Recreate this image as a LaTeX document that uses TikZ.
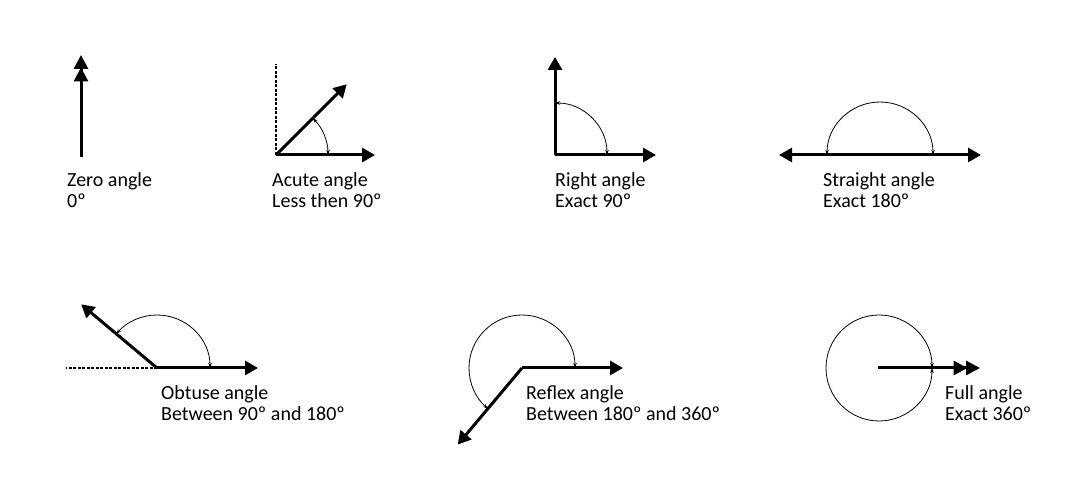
\documentclass[tikz,border=0pt]{standalone}
\usepackage{fontspec}
\setmainfont{Carlito}
\usetikzlibrary{arrows.meta}

\tikzset{
	ray/.style={line width=3pt, -{Triangle[width=14pt,length=13pt]}},
	tworay/.style={line width=3pt, {Triangle[width=14pt,length=13pt]}-{Triangle[width=14pt,length=13pt]}},
	fullray/.style={line width=3pt, -{Triangle[width=14pt,length=14pt,sep=-1.5pt]Triangle[width=14pt,length=14pt]}},
	guide/.style={line width=2pt, dash pattern=on 3pt off 1.5pt},
	anglearc/.style={line width=0.8pt, {Stealth[length=5pt,width=3.5pt]}-{Stealth[length=5pt,width=3.5pt]}},
	anglename/.style={anchor=base west, inner sep=0pt, align=left, font=\fontsize{20}{21.5}\selectfont}
}

\begin{document}
\begin{tikzpicture}[x=1pt, y=1pt]
\useasboundingbox (0,0) rectangle (1071,500);

% vertices
\coordinate (zero) at (81,343);
\coordinate (acute) at (276,345);
\coordinate (right) at (555,345);
\coordinate (straight) at (880,345);
\coordinate (obtuse) at (157,132);
\coordinate (reflex) at (522,132);
\coordinate (full) at (879,132);

% zero angle
\draw[fullray] (zero) -- ++(0,102);

% acute angle
\draw[guide] (acute) -- ++(0,91);
\draw[ray] (acute) -- ++(99,0);
\draw[ray] (acute) -- ++(45:100);
\draw[anglearc] ([shift={(0:52)}]acute) arc[start angle=0, end angle=45, radius=52];

% right angle
\draw[ray] (right) -- ++(0,98);
\draw[ray] (right) -- ++(101,0);
\draw[anglearc] ([shift={(0:52)}]right) arc[start angle=0, end angle=90, radius=52];

% straight angle
\draw[tworay] ([shift={(-101,0)}]straight) -- ++(202,0);
\draw[anglearc] ([shift={(0:53)}]straight) arc[start angle=0, end angle=180, radius=53];

% obtuse angle
\draw[guide] (obtuse) -- ++(-91,0);
\draw[ray] (obtuse) -- ++(101,0);
\draw[ray] (obtuse) -- ++(140:99);
\draw[anglearc] ([shift={(0:53)}]obtuse) arc[start angle=0, end angle=140, radius=53];

% reflex angle
\draw[ray] (reflex) -- ++(101,0);
\draw[ray] (reflex) -- ++(230:100);
\draw[anglearc] ([shift={(0:53)}]reflex) arc[start angle=0, end angle=230, radius=53];

% full angle
\draw[anglearc] ([shift={(0:53)}]full) arc[start angle=0, end angle=360, radius=53];
\draw[fullray] ([shift={(-1,0)}]full) -- ++(102,0);

\node[anglename] (zerotext) at (67,292) {Zero angle\\0º};
\node[anglename] (acutetext) at (272,292) {Acute angle\\Less then 90º};
\node[anglename] (righttext) at (555,292) {Right angle\\Exact 90º};
\node[anglename] (straighttext) at (823,292) {Straight angle\\Exact 180º};
\node[anglename] (obtusetext) at (161,79) {Obtuse angle\\Between 90º and 180º};
\node[anglename] (reflextext) at (526,79) {Reflex angle\\Between 180º and 360º};
\node[anglename] (fulltext) at (945,79) {Full angle\\Exact 360º};
\end{tikzpicture}
\end{document}
